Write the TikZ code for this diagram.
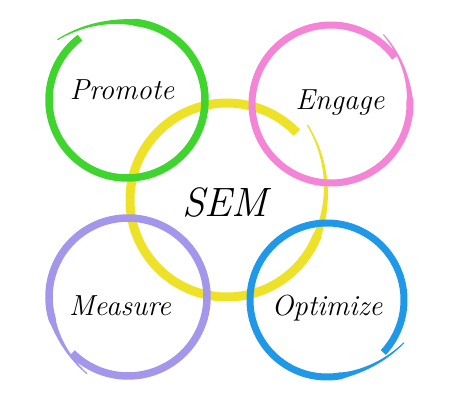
\documentclass[tikz,border=0pt]{standalone}
\usepackage{tikz}
\definecolor{ringgreen}{RGB}{64,212,46}
\definecolor{ringpink}{RGB}{244,132,214}
\definecolor{ringyellow}{RGB}{238,226,40}
\definecolor{ringpurple}{RGB}{164,150,234}
\definecolor{ringblue}{RGB}{32,152,232}
\usetikzlibrary{calc}

\begin{document}
\begin{tikzpicture}[
    x=1pt, y=1pt,
    word/.style={font=\fontsize{29}{33}\selectfont\itshape, inner sep=0pt, anchor=base},
    hub/.style={font=\fontsize{41}{45}\selectfont\itshape, inner sep=0pt, anchor=base},
    declare function={
        tp(\ta,\te,\tl)=max(0,(\ta-\te+\tl)/\tl);
        rout(\ta,\tr,\te,\tl,\td,\tw)=\tr+\td*tp(\ta,\te,\tl)^2+\tw/2*(1-0.85*sqrt(tp(\ta,\te,\tl)));
        rin(\ta,\tr,\te,\tl,\td,\tw)=\tr+\td*tp(\ta,\te,\tl)^2-\tw/2*(1-0.85*sqrt(tp(\ta,\te,\tl)));
    }
]
    \fill[white] (0,0) rectangle (474,410);
    \useasboundingbox (0,0) rectangle (474,410);

    % ring centres
    \coordinate (cSem) at (227,210);
    \coordinate (cPromote) at (127,310);
    \coordinate (cEngage) at (331,306);
    \coordinate (cMeasure) at (128,113);
    \coordinate (cOptimize) at (327,110);

    % brush rings: centre/radius/start/end/taper/spread/width/colour
    \foreach \ctr/\rad/\beg/\fin/\len/\dr/\bw/\col in {
        cSem/97/44/403/65/13/9/ringyellow,
        cPromote/78/127/499/55/14/7.5/ringgreen,
        cEngage/79/36/413/50/8/7/ringpink,
        cMeasure/79/225/602/45/8/7.5/ringpurple,
        cOptimize/77/317/691/50/11/7/ringblue}
    {
        \fill[\col, shift={(\ctr)}]
            plot[domain=\beg:\fin, samples=220, variable=\ang]
                ({rout(\ang,\rad,\fin,\len,\dr,\bw)*cos(\ang)}, {rout(\ang,\rad,\fin,\len,\dr,\bw)*sin(\ang)})
            -- plot[domain=\fin:\beg, samples=220, variable=\ang]
                ({rin(\ang,\rad,\fin,\len,\dr,\bw)*cos(\ang)}, {rin(\ang,\rad,\fin,\len,\dr,\bw)*sin(\ang)})
            -- cycle;
    }

    % labels
    \node[hub] (sem) at (225,193) {SEM};
    \node[word] (promote) at (122,310) {Promote};
    \node[word] (engage) at (340,300) {Engage};
    \node[word] (measure) at (120,95) {Measure};
    \node[word] (optimize) at (327,95) {Optimize};
\end{tikzpicture}
\end{document}
